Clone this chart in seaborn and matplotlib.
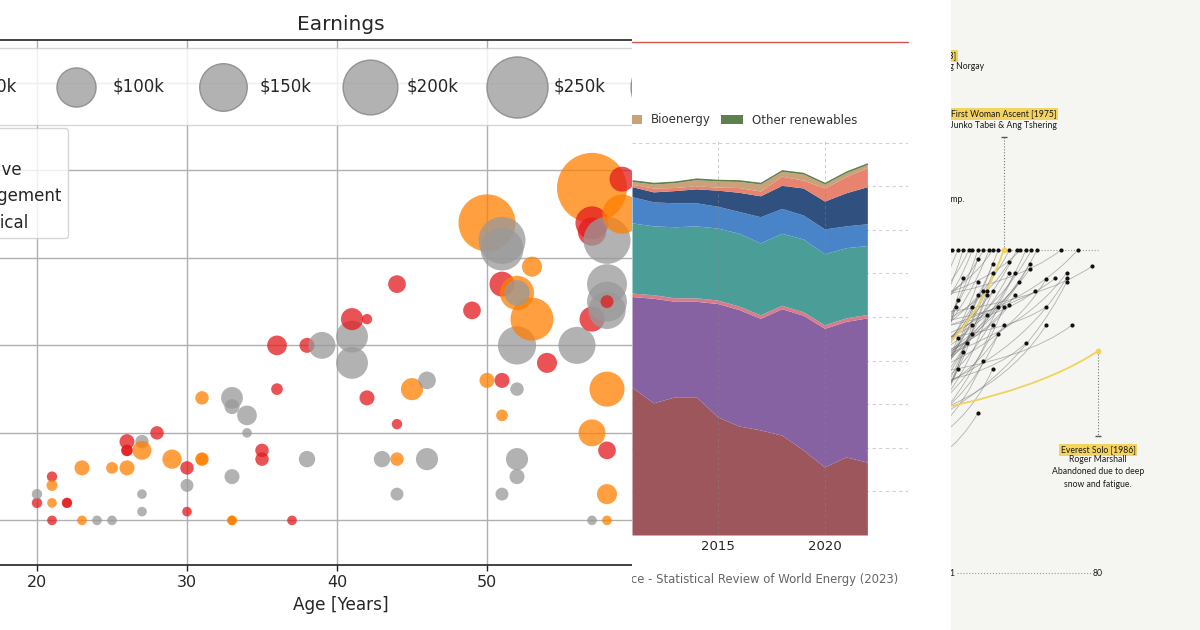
import numpy as np
import pandas as pd
import matplotlib
matplotlib.use("Agg")
import matplotlib.pyplot as plt
from matplotlib.lines import Line2D
from matplotlib.patches import PathPatch
from matplotlib.path import Path
import seaborn as sns

sns.set_style("ticks")
plt.rcParams["font.family"] = ["DejaVu Sans"]

# ---------------- left panel: earnings bubbles ----------------
roles = ["Creative", "Management", "Technical"]
role_colors = {"Creative": "#e41a1c", "Management": "#ff7f00", "Technical": "#999999"}
age = [20, 20, 21, 21, 21, 21, 22, 22, 23, 23, 24, 25, 25, 26, 26, 26, 26, 27, 27, 27,
       27, 28, 29, 30, 30, 30, 31, 31, 31, 33, 33, 33, 33, 33, 34, 34, 35, 35, 36, 36,
       37, 38, 38, 39, 41, 41, 41, 42, 42, 44, 44, 43, 44, 45, 46, 46, 49, 50, 51, 51,
       51, 52, 52, 52, 52, 53, 54, 56, 57, 57, 57, 58, 58, 58, 58, 58, 50, 51, 51, 53,
       51, 52, 52, 44, 57, 59, 57, 57, 58, 59, 58, 58, 58]
experience = [2, 3, 5, 4, 2, 0, 2, 2, 6, 0, 0, 0, 6, 6, 9, 8, 8, 9, 8, 3,
              1, 10, 7, 6, 4, 1, 14, 7, 7, 14, 13, 5, 0, 0, 12, 10, 8, 7, 20, 15,
              0, 7, 20, 20, 21, 18, 23, 23, 14, 11, 7, 7, 3, 15, 16, 7, 24, 16, 16, 12,
              3, 20, 15, 7, 5, 23, 18, 20, 23, 10, 0, 15, 8, 3, 0, 24, 34, 32, 31, 29,
              27, 26, 26, 27, 38, 39, 34, 33, 32, 35, 27, 25, 25]
earnings_k = [3, 3, 3, 4, 2, 2, 3, 2, 11, 2, 2, 2, 5, 11, 11, 5, 4, 8, 20, 2,
              2, 8, 21, 8, 7, 2, 8, 8, 6, 28, 11, 11, 2, 2, 22, 2, 8, 8, 22, 5,
              2, 14, 11, 45, 65, 65, 29, 3, 11, 3, 8, 14, 7, 29, 17, 29, 17, 11, 11, 5,
              7, 95, 8, 29, 11, 121, 23, 89, 38, 45, 2, 79, 17, 23, 2, 90, 217, 146, 120, 23,
              38, 75, 40, 17, 329, 38, 70, 50, 146, 100, 104, 104, 7]
role = ["C", "T", "C", "M", "M", "C", "C", "C", "M", "M", "T", "T", "M", "M", "C", "C", "C", "T", "M", "T",
        "T", "C", "M", "C", "T", "C", "M", "M", "M", "T", "T", "T", "M", "M", "T", "T", "C", "C", "C", "C",
        "C", "T", "C", "T", "T", "T", "C", "C", "C", "C", "M", "T", "T", "M", "T", "T", "C", "M", "C", "M",
        "T", "T", "T", "T", "T", "M", "C", "T", "C", "M", "T", "M", "C", "M", "M", "T", "M", "T", "T", "M",
        "C", "M", "T", "C", "M", "C", "C", "C", "T", "M", "T", "T", "C"]
role_names = {"C": "Creative", "M": "Management", "T": "Technical"}
size_levels = [50, 100, 150, 200, 250, 300]

# ---------------- middle panel: electricity mix ----------------
years = list(range(2011, 2023))
sources = ["Coal", "Gas", "Oil", "Nuclear", "Hydro", "Wind", "Solar", "Bioenergy", "Other renewables"]
coal = [33.9, 30.3, 31.7, 31.7, 27.1, 25.0, 24.1, 22.9, 19.5, 15.6, 17.9, 16.7]
gas = [20.8, 24.0, 21.9, 21.9, 26.0, 26.7, 25.6, 29.0, 30.9, 31.8, 31.1, 33.1]
oil = [0.8, 0.8, 0.8, 0.8, 0.8, 0.8, 0.8, 0.8, 0.8, 0.8, 0.8, 0.8]
nuclear = [16.1, 15.8, 16.3, 16.5, 16.5, 16.7, 16.5, 16.5, 16.7, 16.3, 16.1, 15.8]
hydro = [6.0, 5.5, 5.5, 5.3, 5.0, 5.0, 6.0, 5.7, 5.5, 5.7, 5.0, 5.0]
wind = [2.3, 2.3, 2.8, 3.2, 3.7, 4.4, 4.8, 5.3, 6.2, 6.4, 7.6, 8.5]
solar = [0.5, 0.9, 0.7, 0.7, 0.7, 1.1, 1.1, 2.1, 1.8, 3.0, 3.7, 4.4]
bio = [0.7, 0.9, 1.1, 1.4, 1.4, 1.4, 1.6, 1.1, 1.4, 0.9, 0.9, 0.7]
other = [0.4, 0.4, 0.4, 0.4, 0.4, 0.4, 0.4, 0.4, 0.4, 0.4, 0.4, 0.4]
source_colors = ["#9d565b", "#8762a3", "#d97b8a", "#4b9e98", "#4a84c8",
                 "#30507f", "#e8836f", "#c9a27a", "#5f7f4e"]

# ---------------- right panel: everest climbs ----------------
end_day = [1, 4, 7, 10, 12, 15, 18, 21, 23, 26, 32, 36, 38, 41, 44, 47, 60, 69,
           15, 23, 32, 43, 43, 77, 23, 32, 35, 57, 63, 63, 63, 52, 7, 15, 37, 18, 20, 23, 46,
           15, 20, 35, 4, 3, 32, 12, 26, 29, 52, 20, 12, 23, 29, 52, 66, 4, 12, 26, 9, 41,
           7, 18, 4, 23, 15]
end_alt = [8849] * 18 + [
    8759, 8709, 8729, 8709, 8659, 8689, 8619, 8619, 8619, 8569, 8619, 8569, 8529, 8559,
    8569, 8529, 8529, 8439, 8439, 8439, 8439, 8399, 8399, 8399, 8349, 8279, 8299, 8279,
    8279, 8279, 8279, 8199, 8099, 8099, 8099, 8099, 8099, 7969, 8009, 8009, 7919, 7919,
    7829, 7739, 7659, 7659, 7219]
start_day = [-45, -38, -52, -30, -41, -60, -35, -48, -28, -55, -33, -44, -26, -50, -37, -42, -20, -31,
             -25, -40, -22, -36, -18, -12, -47, -29, -34, -15, -21, -27, -39, -24, -58, -43, -19,
             -32, -46, -23, -14, -53, -38, -26, -62, -65, -17, -49, -30, -35, -11, -41, -56, -44,
             -20, -28, -16, -68, -51, -33, -57, -13, -66, -42, -70, -24, -36]
start_alt = [7600, 7900, 7300, 8100, 7700, 7000, 8000, 7400, 8200, 7100, 7800, 7500, 8300, 7200,
             7650, 7450, 8350, 7950,
             7800, 7300, 8000, 7500, 7900, 8200, 7000, 7600, 7400, 8100, 7700, 7350, 6900, 7550,
             6600, 7150, 7850, 7250, 6800, 7450, 8050, 6700, 7050, 7650, 6500, 6400, 7750, 6850,
             7250, 6950, 7950, 6750, 6450, 6650, 7350, 7100, 7600, 6300, 6550, 6900, 6350, 7500,
             6200, 6600, 6100, 6800, 6500]
woman_climb = [(-30, 7500), (29, 8849)]
marshall_climb = [(-60, 7100), (80, 7839)]

W, H = 1200, 630
fig = plt.figure(figsize=(12, 6.3), dpi=100)


def box(x0, y0, x1, y1):
    return [x0 / W, 1 - y1 / H, (x1 - x0) / W, (y1 - y0) / H]


# ----- left
ax1 = fig.add_axes(box(-38, 40, 719.5, 565))
df = pd.DataFrame({"Age": age, "Experience": experience, "Earnings": earnings_k,
                   "Role": [role_names[r] for r in role]})
sns.scatterplot(data=df, x="Age", y="Experience", hue="Role", size="Earnings",
                hue_order=roles, palette=role_colors, sizes=(33, 3081), size_norm=(0, 400),
                alpha=0.75, linewidth=0, legend=False, ax=ax1)
ax1.set_xlim(15, 65.5)
ax1.set_ylim(-5.1, 54.9)
ax1.set_xticks([20, 30, 40, 50])
ax1.set_yticks([0, 10, 20, 30, 40, 50])
ax1.set_yticklabels([])
ax1.tick_params(axis="y", length=0)
ax1.tick_params(axis="x", labelsize=11.5, length=4, width=1, color="#222")
ax1.grid(True, color="#b0b0b0", lw=1)
ax1.set_axisbelow(True)
ax1.spines["left"].set_visible(False)
ax1.spines["right"].set_visible(False)
for s in ["top", "bottom"]:
    ax1.spines[s].set_color("#222")
    ax1.spines[s].set_linewidth(1.2)
ax1.set_title("Earnings", fontsize=14.5, pad=7)
ax1.set_xlabel("Age [Years]", fontsize=12.2)
ax1.set_ylabel("")

size_handles = [ax1.scatter([], [], s=33 + v / 400 * 3048, color="#999999", alpha=0.75,
                            edgecolor="#7f7f7f", linewidth=1) for v in size_levels]
size_leg = ax1.legend(size_handles, [f"${v}k" for v in size_levels], loc="upper center",
                      ncol=6, fontsize=12, handlelength=2.8, handletextpad=0.8,
                      columnspacing=2.1, borderpad=1.75, framealpha=0.8, edgecolor="#cccccc",
                      scatterpoints=1, bbox_to_anchor=(0.4915, 1))
ax1.add_artist(size_leg)
role_handles = [Line2D([], [], marker="o", ls="", color=role_colors[r], alpha=0.75, markersize=9)
                for r in roles]
cat_leg = ax1.legend(role_handles, roles, title="Role", loc="upper right",
                     bbox_to_anchor=(68 / W, 1 - 128 / H), bbox_transform=fig.transFigure,
                     borderaxespad=0, fontsize=12, title_fontsize=12, framealpha=0.8,
                     edgecolor="#cccccc")
cat_leg._legend_box.align = "left"

# ----- middle
mid = fig.add_axes(box(632, 0, 950, 630))
mid.set_xlim(0, 1)
mid.set_ylim(0, 1)
mid.set_xticks([])
mid.set_yticks([])
for s in mid.spines.values():
    s.set_visible(False)
mid.plot([0, (908 - 632) / 318], [1 - 42 / H] * 2, color="#d9534f", lw=1)
mid.text((898 - 632) / 318, 1 - 580 / H,
         "Data Source - Statistical Review of World Energy (2023)",
         ha="right", va="center", fontsize=8.4, color="#666666", clip_on=True)

ax2 = fig.add_axes(box(632, 140, 908, 535))
ax2.stackplot(years, coal, gas, oil, nuclear, hydro, wind, solar, bio, other,
              colors=source_colors, labels=sources, lw=0)
ax2.set_xlim(2011, 2023.9)
ax2.set_ylim(0, 90.6)
ax2.set_xticks([2015, 2020])
ax2.set_yticks(range(10, 91, 10))
ax2.set_yticklabels([])
ax2.tick_params(length=0, labelsize=9.5)
ax2.grid(axis="y", ls=(0, (3, 3)), color="#d0d0d0", lw=0.8)
ax2.set_axisbelow(True)
for yr in [2015, 2020]:
    ax2.axvline(yr, ls=(0, (3, 3)), color="#888888", lw=0.7, alpha=0.45, zorder=3)
for s in ax2.spines.values():
    s.set_visible(False)
leg2 = ax2.legend(loc="center right", bbox_to_anchor=(857.5 / W, 1 - 120 / H),
                  bbox_transform=fig.transFigure, ncol=9, frameon=False, fontsize=8.5,
                  borderpad=0, borderaxespad=0, columnspacing=0.85, handlelength=1.9,
                  handletextpad=0.75, labelcolor="#333333")
for a in leg2.findobj():
    a.set_clip_path(mid.patch)

# ----- right
ax3 = fig.add_axes(box(951, 0, 1200, 630))
ax3.set_facecolor("#f5f5f2")
ax3.set_xlim(0.46, 135.2)
ax3.set_ylim(5049, 11349)
ax3.set_xticks([])
ax3.set_yticks([])
for s in ax3.spines.values():
    s.set_visible(False)

ax3.plot([-5, 80], [8849, 8849], ls=":", color="#999999", lw=0.8, zorder=1)
for sd, sa, ed, ea in zip(start_day, start_alt, end_day, end_alt):
    p = Path([(sd, sa), (sd + 0.7 * (ed - sd), sa + 0.3 * (ea - sa)), (ed, ea)],
             [Path.MOVETO, Path.CURVE3, Path.CURVE3])
    ax3.add_patch(PathPatch(p, fill=False, edgecolor="#6e6e6e", lw=0.6, alpha=0.5, zorder=2))
for (sd, sa), (ed, ea) in [woman_climb, marshall_climb]:
    p = Path([(sd, sa), (sd + 0.7 * (ed - sd), sa + 0.3 * (ea - sa)), (ed, ea)],
             [Path.MOVETO, Path.CURVE3, Path.CURVE3])
    ax3.add_patch(PathPatch(p, fill=False, edgecolor="#f2d25c", lw=1.3, zorder=3))
sns.scatterplot(x=end_day, y=end_alt, s=9, color="#111111", linewidth=0, zorder=4, ax=ax3)
ax3.scatter([woman_climb[1][0], marshall_climb[1][0]], [woman_climb[1][1], marshall_climb[1][1]],
            s=10, color="#f2d25c", zorder=5)

ax3.plot([29, 29], [8849, 9979], ls=":", color="#777777", lw=0.8)
ax3.plot([29], [9979], marker="_", color="#555555", ms=4)
ax3.plot([80, 80], [7839, 6989], ls=":", color="#777777", lw=0.8)
ax3.plot([80], [6989], marker="_", color="#555555", ms=4)
ax3.plot([3.5, 76], [5619, 5619], ls=":", color="#999999", lw=0.8)

fam = ["Lato", "DejaVu Sans"]
hl = dict(boxstyle="square,pad=0.15", fc="#f4d35e", ec="none")
txt = dict(ha="center", va="center", fontsize=6.2, family=fam, color="#1a1a1a", clip_on=True)
ax3.text(-16.3, 10789, "First Ascent [1953]", bbox=hl, **txt)
ax3.text(-16.3, 10679, "Edmund Hillary & Tenzing Norgay", **txt)
ax3.text(29, 10209, "First Woman Ascent [1975]", bbox=hl, **txt)
ax3.text(29, 10089, "Junko Tabei & Ang Tshering", **txt)
ax3.text(-22, 9469, "Fatal fall on descent", **txt)
ax3.text(-22, 9349, "above Advanced Base Camp.", **txt)
ax3.text(80, 6849, "Everest Solo [1986]", bbox=hl, **txt)
ax3.text(80, 6629, "Roger Marshall\nAbandoned due to deep\nsnow and fatigue.",
         linespacing=1.55, **txt)
ax3.text(1, 5619, "1", **txt)
ax3.text(80, 5619, "80", **txt)

fig.savefig("out.png", dpi=100)
